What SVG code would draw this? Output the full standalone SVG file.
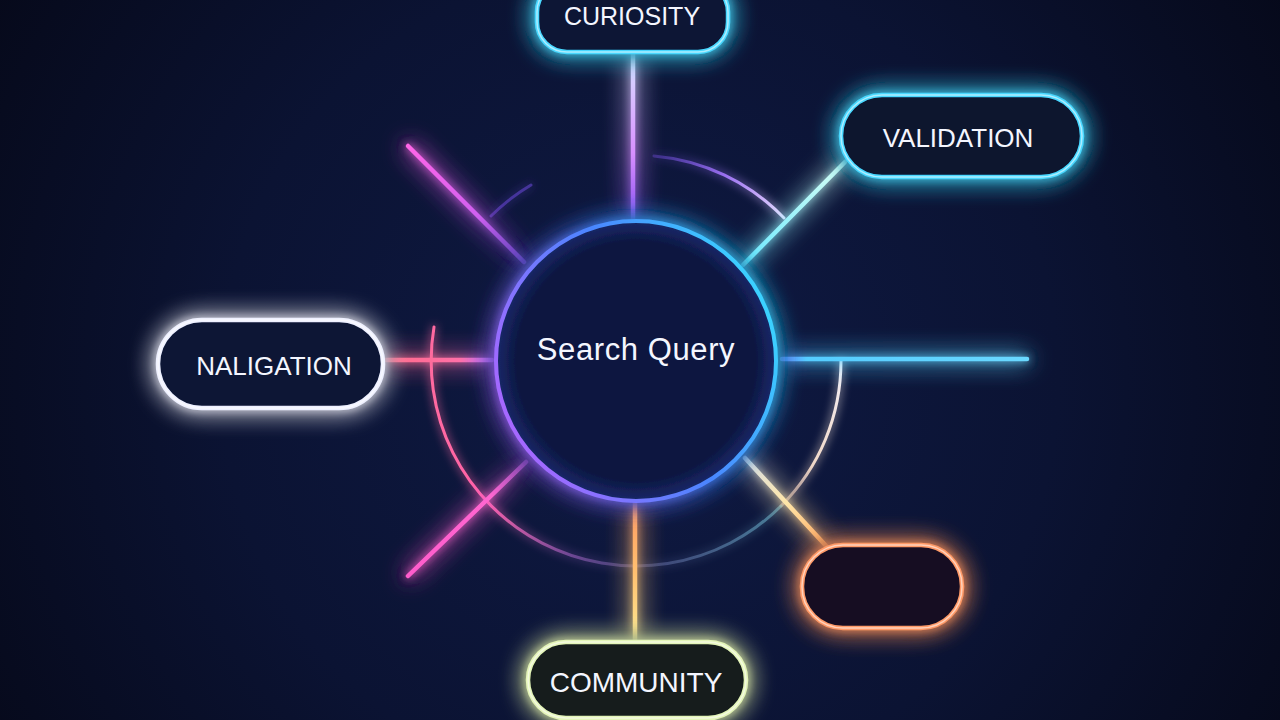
<svg xmlns="http://www.w3.org/2000/svg" width="1280" height="720" viewBox="0 0 1280 720">
  <defs>
    <radialGradient id="bg" cx="640" cy="380" r="760" gradientUnits="userSpaceOnUse">
      <stop offset="0" stop-color="#0f1a44"/>
      <stop offset="0.55" stop-color="#0b1333"/>
      <stop offset="1" stop-color="#06091a"/>
    </radialGradient>
    <radialGradient id="coreFill" cx="636" cy="361" r="140" gradientUnits="userSpaceOnUse">
      <stop offset="0" stop-color="#0d173f"/>
      <stop offset="0.85" stop-color="#0d1740"/>
      <stop offset="1" stop-color="#18286a"/>
    </radialGradient>
    <linearGradient id="coreStroke" x1="790" y1="300" x2="490" y2="440" gradientUnits="userSpaceOnUse">
      <stop offset="0" stop-color="#38e0ff"/>
      <stop offset="0.45" stop-color="#4a86ff"/>
      <stop offset="1" stop-color="#b463ff"/>
    </linearGradient>
    <linearGradient id="gTL" x1="408" y1="146" x2="524" y2="262" gradientUnits="userSpaceOnUse">
      <stop offset="0" stop-color="#ff66e8"/>
      <stop offset="0.6" stop-color="#d060f0"/>
      <stop offset="1" stop-color="#7a50e0" stop-opacity="0.6"/>
    </linearGradient>
    <linearGradient id="gCur" x1="0" y1="52" x2="0" y2="220" gradientUnits="userSpaceOnUse">
      <stop offset="0" stop-color="#d8e4ff"/>
      <stop offset="0.6" stop-color="#d890ff"/>
      <stop offset="1" stop-color="#8a50f0"/>
    </linearGradient>
    <linearGradient id="gVal" x1="743" y1="265" x2="845" y2="162" gradientUnits="userSpaceOnUse">
      <stop offset="0" stop-color="#6ae8ff"/>
      <stop offset="1" stop-color="#d8fff4"/>
    </linearGradient>
    <linearGradient id="gRight" x1="782" y1="0" x2="1027" y2="0" gradientUnits="userSpaceOnUse">
      <stop offset="0" stop-color="#6a7cff"/>
      <stop offset="0.1" stop-color="#55ccff"/>
      <stop offset="1" stop-color="#6ad8ff"/>
    </linearGradient>
    <linearGradient id="gBR" x1="745" y1="458" x2="828" y2="548" gradientUnits="userSpaceOnUse">
      <stop offset="0" stop-color="#d8e0e8"/>
      <stop offset="0.5" stop-color="#ffe6a8"/>
      <stop offset="1" stop-color="#ffa860"/>
    </linearGradient>
    <linearGradient id="gCom" x1="0" y1="503" x2="0" y2="641" gradientUnits="userSpaceOnUse">
      <stop offset="0" stop-color="#ff9a60"/>
      <stop offset="0.5" stop-color="#ffc070"/>
      <stop offset="1" stop-color="#ffe890"/>
    </linearGradient>
    <linearGradient id="gBL" x1="408" y1="576" x2="526" y2="462" gradientUnits="userSpaceOnUse">
      <stop offset="0" stop-color="#ff5ccc"/>
      <stop offset="0.7" stop-color="#ff66d0"/>
      <stop offset="1" stop-color="#c060e0" stop-opacity="0.5"/>
    </linearGradient>
    <linearGradient id="gNav" x1="385" y1="0" x2="492" y2="0" gradientUnits="userSpaceOnUse">
      <stop offset="0" stop-color="#ff6a88"/>
      <stop offset="0.7" stop-color="#ff70a8"/>
      <stop offset="1" stop-color="#b070ff"/>
    </linearGradient>
    <linearGradient id="gArcTR" x1="654" y1="156" x2="784" y2="218" gradientUnits="userSpaceOnUse">
      <stop offset="0" stop-color="#6a48d8" stop-opacity="0.4"/>
      <stop offset="0.5" stop-color="#9a70f0"/>
      <stop offset="1" stop-color="#e8d8ff"/>
    </linearGradient>
    <linearGradient id="gArcR" x1="0" y1="361" x2="0" y2="510" gradientUnits="userSpaceOnUse">
      <stop offset="0" stop-color="#f4f0f8"/>
      <stop offset="0.7" stop-color="#f0d8c8"/>
      <stop offset="1" stop-color="#c0a0a0" stop-opacity="0.6"/>
    </linearGradient>
    <linearGradient id="gArcB" x1="781" y1="0" x2="430" y2="0" gradientUnits="userSpaceOnUse">
      <stop offset="0" stop-color="#5aa0b8" stop-opacity="0.7"/>
      <stop offset="0.4" stop-color="#6a6aa8" stop-opacity="0.45"/>
      <stop offset="0.6" stop-color="#a060c0" stop-opacity="0.6"/>
      <stop offset="0.85" stop-color="#ff62a8"/>
      <stop offset="1" stop-color="#ff6aa0"/>
    </linearGradient>
    <filter id="glow" filterUnits="userSpaceOnUse" x="0" y="-40" width="1280" height="800">
      <feGaussianBlur in="SourceGraphic" stdDeviation="12" result="b1"/>
      <feGaussianBlur in="SourceGraphic" stdDeviation="4" result="b2"/>
      <feMerge>
        <feMergeNode in="b1"/>
        <feMergeNode in="b1"/>
        <feMergeNode in="b2"/>
        <feMergeNode in="SourceGraphic"/>
      </feMerge>
    </filter>
    <filter id="soft" filterUnits="userSpaceOnUse" x="0" y="-40" width="1280" height="800">
      <feGaussianBlur in="SourceGraphic" stdDeviation="5" result="b2"/>
      <feMerge>
        <feMergeNode in="b2"/>
        <feMergeNode in="SourceGraphic"/>
      </feMerge>
    </filter>
  </defs>
  <style>
    .lbl { font-family: "Liberation Sans", Arial, sans-serif; fill: #f4f6ff; text-anchor: middle; }
    .ln { fill: none; stroke-width: 4.5; stroke-linecap: round; }
    .arc { fill: none; stroke-width: 3; stroke-linecap: round; }
    .pill { stroke-width: 4.5; }
    .core { fill: none; stroke: #ffffff; stroke-opacity: 0.55; stroke-width: 1.5; }
  </style>

  <rect width="1280" height="720" fill="url(#bg)"/>

  <g id="connectors">
    <g filter="url(#soft)">
      <path class="arc" d="M654,156 A205,205 0 0 1 784,218" stroke="url(#gArcTR)"/>
      <path class="arc" d="M841,361 A205,205 0 0 1 781,506" stroke="url(#gArcR)"/>
      <path class="arc" d="M781,506 A205,205 0 0 1 434,327" stroke="url(#gArcB)"/>
      <path class="arc" d="M491,216 A205,205 0 0 1 531,185" stroke="#6a48d8" stroke-opacity="0.55"/>
    </g>
    <g filter="url(#glow)">
      <line class="ln" x1="408" y1="146" x2="524" y2="262" stroke="url(#gTL)"/>
      <line class="ln" x1="633" y1="52" x2="633" y2="220" stroke="url(#gCur)"/>
      <line class="ln" x1="743" y1="265" x2="845" y2="162" stroke="url(#gVal)"/>
      <line class="ln" x1="782" y1="359" x2="1027" y2="359" stroke="url(#gRight)" stroke-width="5.5"/>
      <line class="ln" x1="745" y1="458" x2="828" y2="548" stroke="url(#gBR)"/>
      <line class="ln" x1="635" y1="503" x2="635" y2="641" stroke="url(#gCom)"/>
      <line class="ln" x1="408" y1="576" x2="526" y2="462" stroke="url(#gBL)"/>
      <line class="ln" x1="385" y1="360" x2="492" y2="360" stroke="url(#gNav)"/>
    </g>
  </g>

  <g id="search-query">
    <circle cx="636" cy="361" r="140" fill="url(#coreFill)" stroke="url(#coreStroke)" stroke-width="4" filter="url(#glow)"/>
    <text class="lbl" x="636" y="360" font-size="31" letter-spacing="0.6">Search Query</text>
  </g>

  <g id="curiosity">
    <rect class="pill" x="537" y="-18" width="191" height="70" rx="30" fill="#0a1534" stroke="#4ad8ff" filter="url(#glow)"/>
    <rect class="core" x="537" y="-18" width="191" height="70" rx="30"/>
    <text class="lbl" x="632" y="25" font-size="25">CURIOSITY</text>
  </g>

  <g id="validation">
    <rect class="pill" x="841" y="95" width="241" height="82" rx="41" fill="#08122e" stroke="#48d8ff" filter="url(#glow)"/>
    <rect class="core" x="841" y="95" width="241" height="82" rx="41"/>
    <text class="lbl" x="958" y="147" font-size="26">VALIDATION</text>
  </g>

  <g id="naligation">
    <rect class="pill" x="158" y="320" width="225" height="88" rx="44" fill="#0b1636" stroke="#eef0ff" filter="url(#glow)"/>
    <rect class="core" x="158" y="320" width="225" height="88" rx="44"/>
    <text class="lbl" x="274" y="375" font-size="26">NALIGATION</text>
  </g>

  <g id="community">
    <rect class="pill" x="528" y="642" width="218" height="76" rx="38" fill="#141d1c" stroke="#e4f4b8" filter="url(#glow)"/>
    <rect class="core" x="528" y="642" width="218" height="76" rx="38"/>
    <text class="lbl" x="636" y="692" font-size="28">COMMUNITY</text>
  </g>

  <g id="empty-node">
    <rect class="pill" x="802" y="545" width="160" height="83" rx="41" fill="#171024" stroke="#ff9a68" filter="url(#glow)"/>
    <rect class="core" x="802" y="545" width="160" height="83" rx="41"/>
  </g>
</svg>
